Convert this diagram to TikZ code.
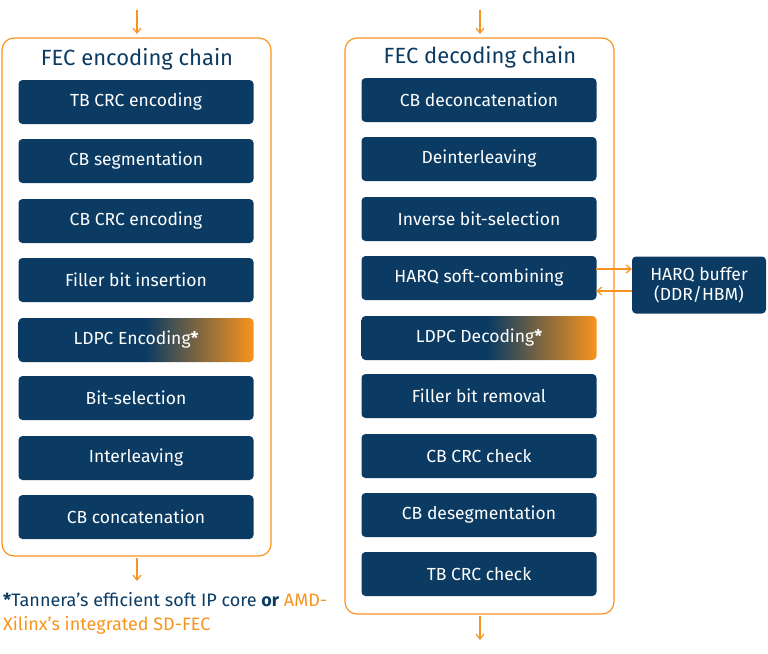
\documentclass[tikz,border=0pt]{standalone}
\usepackage{fontspec}
\setmainfont{Fira Sans}
\usetikzlibrary{arrows.meta}
\definecolor{navy}{HTML}{0B3B63}
\definecolor{org}{HTML}{F7941D}
\pgfdeclarehorizontalshading{ldpc}{100bp}{rgb(0bp)=(0.043,0.231,0.388); rgb(52bp)=(0.043,0.231,0.388); rgb(75bp)=(0.97,0.58,0.11); rgb(100bp)=(0.97,0.58,0.11)}
\begin{document}
\begin{tikzpicture}[x=1pt,y=-1pt,
  blk/.style={fill=navy,text=white,rounded corners=4pt,minimum width=235pt,minimum height=44pt,font=\fontsize{17.5}{20}\selectfont},
  grad/.style={blk,fill=none,shading=ldpc},
  cont/.style={draw=org,line width=1.2pt,rounded corners=12pt},
  arr/.style={draw=org,line width=1.2pt,-{Straight Barb[length=5pt,width=8pt]}},
  ttl/.style={text=navy,font=\fontsize{22}{26}\selectfont}]
\useasboundingbox (0,0) rectangle (768,653);
\draw[cont] (2,38) rectangle (271,556);
\draw[cont] (345,38) rectangle (614,614);
\node[ttl] (t1) at (137,59) {FEC encoding chain};
\node[ttl] (t2) at (480,57) {FEC decoding chain};
\foreach \n/\y/\t in {a1/102/TB CRC encoding,a2/161/CB segmentation,a3/221/CB CRC encoding,a4/280/Filler bit insertion,a6/398/Bit-selection,a7/458/Interleaving,a8/517/CB concatenation}
  \node[blk] (\n) at (136,\y) {\t};
\node[grad] (a5) at (136,340) {LDPC Encoding\textbf{*}};
\foreach \n/\y/\t in {b1/100/CB deconcatenation,b2/159/Deinterleaving,b3/219/Inverse bit-selection,b4/278/HARQ soft-combining,b6/396/Filler bit removal,b7/456/CB CRC check,b8/515/CB desegmentation,b9/574/TB CRC check}
  \node[blk] (\n) at (479,\y) {\t};
\node[grad] (b5) at (479,338) {LDPC Decoding\textbf{*}};
\node[blk,minimum width=134pt,minimum height=57pt,align=center] (h) at (699,285) {HARQ buffer\\(DDR/HBM)};
\coordinate (s1) at (137,10); \coordinate (e1) at (137,34);
\coordinate (s2) at (137,558); \coordinate (e2) at (137,581);
\coordinate (s3) at (480,10); \coordinate (e3) at (480,34);
\coordinate (s4) at (480,616); \coordinate (e4) at (480,640);
\draw[arr] (s1)--(e1); \draw[arr] (s2)--(e2); \draw[arr] (s3)--(e3); \draw[arr] (s4)--(e4);
\coordinate (p1) at (596,269); \coordinate (p2) at (632,269);
\coordinate (q1) at (632,291); \coordinate (q2) at (596,291);
\draw[arr] (p1)--(p2);
\draw[arr] (q1)--(q2);
\node[anchor=north west,align=left,font=\fontsize{18}{24}\selectfont,text=navy,inner sep=0pt] (fn) at (3,592)
 {\textbf{*}Tannera's efficient soft IP core \textbf{or} \textcolor{org}{AMD-}\\\textcolor{org}{Xilinx's integrated SD-FEC}};
\end{tikzpicture}
\end{document}
